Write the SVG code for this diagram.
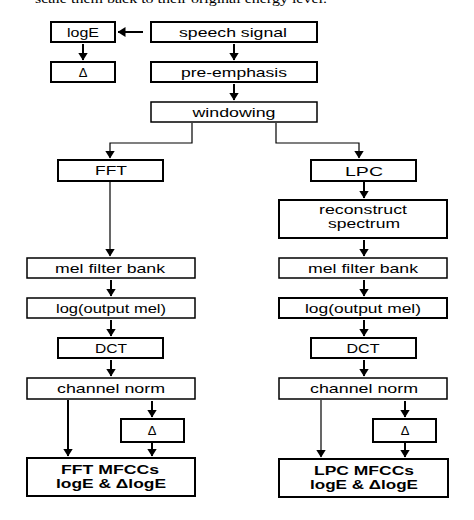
<svg xmlns="http://www.w3.org/2000/svg" width="474" height="520" viewBox="0 0 474 520">
<style>
.b{fill:#fff;stroke:#000;stroke-width:2}
.bt{fill:#fff;stroke:#000;stroke-width:1.5}
.t{font-family:"Liberation Sans",Arial,sans-serif;font-size:13px;text-anchor:middle;fill:#000}
.tb{font-family:"Liberation Sans",Arial,sans-serif;font-size:13px;font-weight:bold;text-anchor:middle;fill:#000}
.a{fill:none;stroke:#000;stroke-width:2;marker-end:url(#ah)}
.a1{fill:none;stroke:#000;stroke-width:1.2;marker-end:url(#ah)}
</style>
<defs>
<marker id="ah" markerUnits="userSpaceOnUse" viewBox="0 0 8 10" refX="7.5" refY="5" markerWidth="8" markerHeight="10" orient="auto">
<path d="M0,0 L8,5 L0,10 z" fill="#000"/>
</marker>
</defs>
<rect width="474" height="520" fill="#fff"/>
<text x="35" y="3" font-family="Liberation Serif,serif" font-size="13" textLength="292" lengthAdjust="spacingAndGlyphs">scale them back to their original energy level.</text>
<g id="connectors">
<line class="a" x1="143" y1="32" x2="118" y2="32"/>
<line class="a" x1="83" y1="44" x2="83" y2="60"/>
<line class="a" x1="234" y1="44" x2="234" y2="60"/>
<line class="a" x1="234" y1="84" x2="234" y2="100"/>
<polyline class="a1" points="192,123 192,143 110,143 110,158"/>
<polyline class="a1" points="276,123 276,143 359,143 359,158"/>
<line class="a" x1="364" y1="182" x2="364" y2="198"/>
<line class="a1" x1="110" y1="182" x2="110" y2="256"/>
<line class="a" x1="364" y1="240" x2="364" y2="256"/>
<line class="a" x1="111" y1="280" x2="111" y2="296"/>
<line class="a" x1="364" y1="280" x2="364" y2="296"/>
<line class="a" x1="111" y1="320" x2="111" y2="336"/>
<line class="a" x1="364" y1="320" x2="364" y2="336"/>
<line class="a" x1="111" y1="360" x2="111" y2="376"/>
<line class="a" x1="364" y1="360" x2="364" y2="376"/>
<line class="a" x1="152" y1="401" x2="152" y2="417"/>
<line class="a" x1="405" y1="401" x2="405" y2="417"/>
<line class="a" x1="152" y1="443" x2="152" y2="456"/>
<line class="a" x1="405" y1="443" x2="405" y2="457"/>
<line class="a" x1="68" y1="400" x2="68" y2="456"/>
<line class="a1" x1="321" y1="400" x2="321" y2="457"/>
</g>
<g id="logE"><rect class="b" x="51" y="22" width="64" height="20"/><text class="t" x="83" y="36.5" textLength="32" lengthAdjust="spacingAndGlyphs">logE</text></g>
<g id="speech"><rect class="b" x="151" y="22" width="166" height="20"/><text class="t" x="233" y="36.5" textLength="108" lengthAdjust="spacingAndGlyphs">speech signal</text></g>
<g id="delta-top"><rect class="b" x="51" y="62" width="64" height="20"/><text class="t" x="83" y="76.5">Δ</text></g>
<g id="preemph"><rect class="b" x="151" y="62" width="166" height="20"/><text class="t" x="234" y="76.5" textLength="106" lengthAdjust="spacingAndGlyphs">pre-emphasis</text></g>
<g id="windowing"><rect class="bt" x="151" y="102" width="166" height="20"/><text class="t" x="234" y="116.5" textLength="83" lengthAdjust="spacingAndGlyphs">windowing</text></g>
<g id="fft"><rect class="b" x="58" y="160" width="105" height="21"/><text class="t" x="111" y="175" textLength="32" lengthAdjust="spacingAndGlyphs">FFT</text></g>
<g id="lpc"><rect class="b" x="311" y="160" width="105" height="21"/><text class="t" x="364" y="176" font-size="15" textLength="38" lengthAdjust="spacingAndGlyphs">LPC</text></g>
<g id="reconstruct"><rect class="b" x="279" y="200" width="168" height="38"/><text class="t" x="363" y="214" font-size="12" textLength="88" lengthAdjust="spacingAndGlyphs">reconstruct</text><text class="t" x="364" y="227.5" font-size="12" textLength="72" lengthAdjust="spacingAndGlyphs">spectrum</text></g>
<g id="mel-left"><rect class="bt" x="27" y="258" width="168" height="20"/><text class="t" x="110" y="272.5" textLength="110" lengthAdjust="spacingAndGlyphs">mel filter bank</text></g>
<g id="mel-right"><rect class="bt" x="279" y="258" width="168" height="20"/><text class="t" x="363" y="272.5" textLength="110" lengthAdjust="spacingAndGlyphs">mel filter bank</text></g>
<g id="log-left"><rect class="bt" x="27" y="298" width="168" height="20"/><text class="t" x="111" y="312.5" textLength="110" lengthAdjust="spacingAndGlyphs">log(output mel)</text></g>
<g id="log-right"><rect class="b" x="279" y="298" width="168" height="20"/><text class="t" x="363" y="312.5" textLength="116" lengthAdjust="spacingAndGlyphs">log(output mel)</text></g>
<g id="dct-left"><rect class="b" x="58" y="338" width="105" height="20"/><text class="t" x="111" y="352.5" textLength="32" lengthAdjust="spacingAndGlyphs">DCT</text></g>
<g id="dct-right"><rect class="b" x="311" y="338" width="105" height="20"/><text class="t" x="363" y="352.5" textLength="33" lengthAdjust="spacingAndGlyphs">DCT</text></g>
<g id="chnorm-left"><rect class="bt" x="27" y="378" width="168" height="21"/><text class="t" x="111" y="392.5" textLength="108" lengthAdjust="spacingAndGlyphs">channel norm</text></g>
<g id="chnorm-right"><rect class="bt" x="279" y="378" width="168" height="21"/><text class="t" x="364" y="392.5" textLength="108" lengthAdjust="spacingAndGlyphs">channel norm</text></g>
<g id="delta-left"><rect class="b" x="121" y="419" width="63" height="23"/><text class="t" x="152" y="435">Δ</text></g>
<g id="delta-right"><rect class="b" x="373" y="419" width="63" height="23"/><text class="t" x="405" y="435">Δ</text></g>
<g id="fft-mfcc"><rect class="b" x="27" y="458" width="168" height="38"/><text class="tb" x="110" y="473.5" textLength="98" lengthAdjust="spacingAndGlyphs">FFT MFCCs</text><text class="tb" x="111" y="488" textLength="110" lengthAdjust="spacingAndGlyphs">logE &amp; ΔlogE</text></g>
<g id="lpc-mfcc"><rect class="b" x="279" y="459" width="169" height="38"/><text class="tb" x="364" y="474.5" textLength="100" lengthAdjust="spacingAndGlyphs">LPC MFCCs</text><text class="tb" x="364" y="489" textLength="108" lengthAdjust="spacingAndGlyphs">logE &amp; ΔlogE</text></g>
</svg>
